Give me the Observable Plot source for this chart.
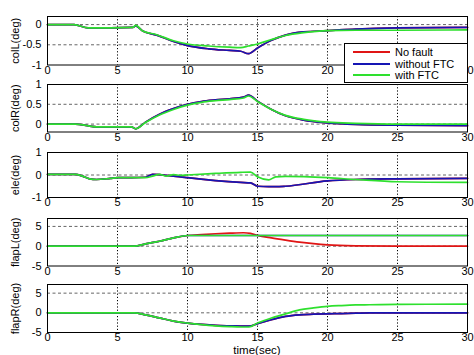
<!DOCTYPE html>
<html><head><meta charset="utf-8">
<script src="https://cdn.jsdelivr.net/npm/d3@7"></script>
<script src="https://cdn.jsdelivr.net/npm/@observablehq/plot@0.6"></script>
<style>
body{margin:0;background:#fff;}
#wrap{position:relative;width:474px;height:355px;overflow:hidden;font-family:"Liberation Sans",Arial,sans-serif;background:#fff;}
#wrap svg{position:absolute;left:0;}
#legend{position:absolute;left:344px;top:43px;width:122px;height:38px;background:#fff;border:1px solid #000;font-size:11px;}
#legend .row{position:absolute;left:0;height:12px;line-height:12px;}
#legend .sw{position:absolute;left:8px;top:5px;width:37px;height:2px;}
#legend .tx{position:absolute;left:50px;top:0;white-space:nowrap;}
#xlab{position:absolute;left:0;width:514px;text-align:center;top:345px;font-size:11.5px;line-height:10px;}
</style>
</head><body>
<div id="wrap"></div>
<script>
// ---- data ----
const SERIES = ["No fault", "without FTC", "with FTC"];
const COLORS = ["#e01515", "#1515b4", "#2ee02e"];
const X_TICKS = [0, 5, 10, 15, 20, 25, 30];

const colL_t     = [0, 1.9, 2.9, 4.5, 6.1, 6.3, 6.8, 7.8, 9, 10, 11.5, 13, 13.8, 14.36, 15, 16, 17, 18.3, 20, 22, 25, 30];
const colL_blue  = [0, 0, -0.08, -0.08, -0.07, -0.03, -0.16, -0.26, -0.42, -0.52, -0.6, -0.64, -0.66, -0.72, -0.58, -0.39, -0.26, -0.18, -0.15, -0.11, -0.08, -0.07];
const colL_green = [0, 0, -0.08, -0.08, -0.07, -0.02, -0.16, -0.25, -0.4, -0.48, -0.53, -0.56, -0.57, -0.53, -0.48, -0.37, -0.27, -0.2, -0.15, -0.14, -0.14, -0.13];
const colL_red   = colL_blue;
const colL_ticks = [-1, -0.5, 0];

const colR_t     = [0, 2, 3, 3.5, 5, 6, 6.3, 7, 8, 9, 10, 11, 12, 13, 14, 14.36, 15, 16, 17, 18.3, 20, 22, 25, 30];
const colR_blue  = [0, 0, -0.05, -0.07, -0.07, -0.07, -0.12, 0.05, 0.25, 0.39, 0.5, 0.57, 0.61, 0.64, 0.68, 0.73, 0.58, 0.37, 0.21, 0.1, 0.03, -0.01, -0.03, -0.04];
const colR_green = [0, 0, -0.05, -0.07, -0.07, -0.07, -0.12, 0.04, 0.23, 0.37, 0.48, 0.55, 0.59, 0.62, 0.66, 0.71, 0.57, 0.37, 0.22, 0.12, 0.05, 0.02, 0.0, 0.0];
const colR_red   = colR_blue;
const colR_ticks = [0, 0.5, 1];

const ele_t     = [0, 2, 2.5, 3, 3.5, 4.5, 5, 6, 7, 7.5, 8, 8.5, 9, 9.5, 10, 12, 13.8, 14.5, 15, 15.8, 16.3, 17, 20, 22, 25, 30];
const ele_blue  = [0.03, 0.03, -0.05, -0.17, -0.2, -0.15, -0.12, -0.12, -0.1, 0.03, 0.02, -0.02, -0.05, -0.08, -0.12, -0.25, -0.33, -0.35, -0.5, -0.52, -0.52, -0.5, -0.26, -0.2, -0.17, -0.15];
const ele_green = [0.03, 0.03, -0.05, -0.17, -0.2, -0.15, -0.12, -0.12, -0.12, -0.05, 0.03, -0.05, 0.02, -0.02, 0.0, 0.07, 0.12, 0.13, -0.08, -0.22, -0.08, -0.06, -0.12, -0.2, -0.3, -0.33];
const ele_red   = ele_blue;
const ele_ticks = [-1, 0, 1];

const flapL_t     = [0, 6.2, 7, 8, 9, 10, 11, 12, 13, 14, 14.5, 15, 16, 17, 18, 19, 20, 22, 25, 30];
const flapL_red   = [0, 0, 0.6, 1.25, 2.1, 2.7, 2.95, 3.15, 3.3, 3.4, 3.25, 2.75, 2.1, 1.55, 1.05, 0.65, 0.35, 0.1, 0, 0];
const flapL_green = [0, 0, 0.6, 1.25, 2.1, 2.7, 2.7, 2.7, 2.7, 2.7, 2.7, 2.7, 2.7, 2.7, 2.7, 2.7, 2.7, 2.7, 2.7, 2.7];
const flapL_blue  = flapL_green;
const flapL_ticks = [-5, 0, 5];

const flapR_t     = [0, 6.2, 7, 8, 9, 10, 11, 12, 13, 13.8, 14.4, 15, 16, 17, 18, 19, 20, 21, 22, 23, 25, 30];
const flapR_blue  = [0, 0, -0.5, -1.3, -2.1, -2.6, -2.95, -3.2, -3.3, -3.35, -3.4, -2.75, -1.75, -0.9, -0.5, -0.35, -0.25, -0.2, -0.1, 0, 0, 0];
const flapR_green = [0, 0, -0.5, -1.3, -2.1, -2.6, -3.0, -3.3, -3.5, -3.6, -3.6, -2.6, -1.3, -0.25, 0.75, 1.25, 1.65, 1.85, 2.0, 2.05, 2.15, 2.2];
const flapR_red   = flapR_blue;
const flapR_ticks = [-5, 0, 5];

// the legend hides the "25" label of the first panel in the reference
const PANELS = [
  {label: "colL(deg)",  t: colL_t,  vals: [colL_red, colL_blue, colL_green],    domain: [-1, 0.2], ticks: colL_ticks,  xLabels: [0, 5, 10, 15, 20, 30], top: 15.5, bottom: 64},
  {label: "colR(deg)",  t: colR_t,  vals: [colR_red, colR_blue, colR_green],    domain: [-0.2, 1], ticks: colR_ticks,  xLabels: X_TICKS, top: 83.5, bottom: 131},
  {label: "ele(deg)",   t: ele_t,   vals: [ele_red, ele_blue, ele_green],       domain: [-1, 1],   ticks: ele_ticks,   xLabels: X_TICKS, top: 151.5, bottom: 196.5},
  {label: "flapL(deg)", t: flapL_t, vals: [flapL_red, flapL_blue, flapL_green], domain: [-5, 7],   ticks: flapL_ticks, xLabels: X_TICKS, top: 217.5, bottom: 265},
  {label: "flapR(deg)", t: flapR_t, vals: [flapR_red, flapR_blue, flapR_green], domain: [-5, 7.2], ticks: flapR_ticks, xLabels: X_TICKS, top: 284, bottom: 332}
];

// ---- drawing ----
const wrap = document.getElementById("wrap");
const fmt = d => String(d);
for (const p of PANELS) {
  const rows = [];
  SERIES.forEach((s, i) => p.t.forEach((tt, j) => rows.push({t: tt, v: p.vals[i][j], s})));
  const mt = 8, mb = 14;
  const chart = Plot.plot({
    width: 474, height: (p.bottom - p.top) + mt + mb,
    marginLeft: 47, marginRight: 7, marginTop: mt, marginBottom: mb,
    style: {fontFamily: '"Liberation Sans", Arial, sans-serif', fontSize: "11px", color: "#000", background: "transparent", overflow: "visible"},
    x: {domain: [0, 30], label: null},
    y: {domain: p.domain},
    color: {domain: SERIES, range: COLORS},
    marks: [
      Plot.gridX(X_TICKS.slice(1, -1), {stroke: "#000", strokeOpacity: 1, strokeDasharray: "1.2,2"}),
      Plot.gridY(p.ticks.filter(v => v > p.domain[0] && v < p.domain[1]), {stroke: "#666", strokeOpacity: 1, strokeDasharray: "3,2.5"}),
      Plot.line(rows, {x: "t", y: "v", z: "s", stroke: "s", strokeWidth: 1.7, curve: "monotone-x"}),
      Plot.axisX(p.xLabels, {tickSize: 0, tickPadding: 1, tickFormat: fmt, fontSize: 11, label: null}),
      Plot.axisY(p.ticks, {tickSize: 0, tickPadding: 6, tickFormat: fmt, fontSize: 11,
        label: p.label, labelAnchor: "center", labelArrow: "none", labelOffset: 36}),
      Plot.frame({stroke: "#000"})
    ]
  });
  chart.style.top = (p.top - mt) + "px";
  wrap.appendChild(chart);
}

// legend
const leg = document.createElement("div");
leg.id = "legend";
SERIES.forEach((s, i) => {
  const row = document.createElement("div");
  row.className = "row";
  row.style.top = (2 + i * 11.6) + "px";
  row.innerHTML = `<div class="sw" style="background:${COLORS[i]}"></div><div class="tx">${s}</div>`;
  leg.appendChild(row);
});
wrap.appendChild(leg);

const xl = document.createElement("div");
xl.id = "xlab";
xl.textContent = "time(sec)";
wrap.appendChild(xl);
</script>
</body></html>
